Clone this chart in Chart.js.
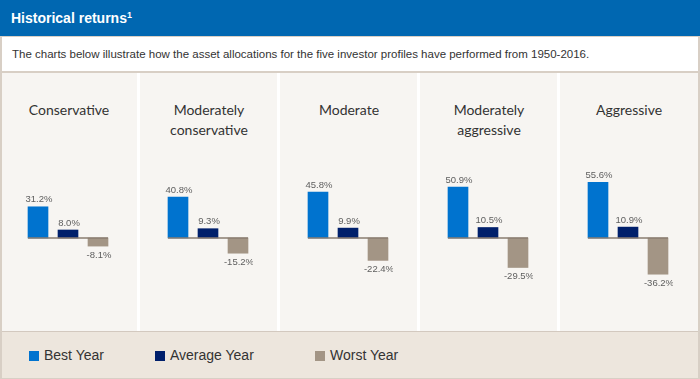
<!DOCTYPE html>
<html lang="en">
<head>
  <meta charset="UTF-8">
  <title>Historical returns</title>
  <script src="https://cdn.jsdelivr.net/npm/chart.js"></script>
  <style>
    body { margin: 0; background: #fff; font-family: Arial, "Liberation Sans", sans-serif; }
    #wrap { position: relative; width: 700px; height: 379px; overflow: hidden; }
    #header {
      position: absolute; left: 0; top: 0; width: 700px; height: 36px;
      background: #0067b1; color: #fff; font-weight: bold; font-size: 14px;
      line-height: 36px; box-sizing: border-box; padding-left: 11px;
    }
    #header sup { font-size: 9px; vertical-align: 5px; line-height: 0; }
    #intro {
      position: absolute; left: 0; top: 36px; width: 700px; height: 37px;
      box-sizing: border-box; border: 2px solid #d8cfc5; border-top: 1px solid #d8cfc5;
      font-size: 11.5px; color: #333; line-height: 34px; padding-left: 10px;
    }
    #body {
      position: absolute; left: 0; top: 73px; width: 700px; height: 306px;
      box-sizing: border-box; border-left: 2px solid #d8cfc5; border-right: 2px solid #d8cfc5;
      border-bottom: 2px solid #d8cfc5;
    }
    .panel { position: absolute; top: 73px; height: 258px; background: #f7f5f2; }
    .title {
      position: absolute; top: 100px; width: 120px; text-align: center;
      font-family: Lato, "Open Sans", sans-serif; font-size: 14px; line-height: 20px; color: #333;
    }
    canvas.mini { position: absolute; top: 158px; }
    #legend {
      position: absolute; left: 2px; top: 331px; width: 696px; height: 46px;
      background: #ede6dd; border-top: 1px solid #d3c9bf;
    }
    .leg { position: absolute; top: 15px; font-size: 14px; color: #333; line-height: 16px; }
    .leg i { position: absolute; left: -15px; top: 4px; width: 10px; height: 10px; }
  </style>
</head>
<body>
<div id="wrap">
  <div id="header">Historical returns<sup>1</sup></div>
  <div id="intro">The charts below illustrate how the asset allocations for the five investor profiles have performed from 1950-2016.</div>
  <div id="body"></div>
  <div id="legend"></div>
</div>
<script>
  // data
  const profiles = ['Conservative', 'Moderately conservative', 'Moderate', 'Moderately aggressive', 'Aggressive'];
  const seriesNames = ['Best Year', 'Average Year', 'Worst Year'];
  const bestYear = [31.2, 40.8, 45.8, 50.9, 55.6];
  const averageYear = [8.0, 9.3, 9.9, 10.5, 10.9];
  const worstYear = [-8.1, -15.2, -22.4, -29.5, -36.2];
  const seriesColors = ['#0073cf', '#001f6b', '#a39585'];

  const wrap = document.getElementById('wrap');

  // baseline + value labels
  const barDecor = {
    id: 'barDecor',
    afterDatasetsDraw(chart) {
      const ctx = chart.ctx;
      const bars = chart.getDatasetMeta(0).data;
      const vals = chart.data.datasets[0].data;
      const y0 = chart.scales.y.getPixelForValue(0);
      ctx.save();
      ctx.strokeStyle = '#8a7d70';
      ctx.lineWidth = 1.5;
      ctx.beginPath();
      ctx.moveTo(bars[0].x - bars[0].width / 2, y0);
      ctx.lineTo(bars[bars.length - 1].x + bars[bars.length - 1].width / 2, y0);
      ctx.stroke();
      ctx.font = '9.5px Arial, "Liberation Sans", sans-serif';
      ctx.fillStyle = '#5e5e5e';
      ctx.textAlign = 'center';
      ctx.textBaseline = 'middle';
      bars.forEach((b, k) => {
        const v = vals[k];
        const y = v >= 0 ? b.y - 7 : b.y + 9;
        ctx.fillText(v.toFixed(1) + '%', b.x + 1, y);
      });
      ctx.restore();
    }
  };

  profiles.forEach((name, i) => {
    const left = i === 0 ? 2 : 140 * i;
    const width = i === 0 ? 135 : (i === 4 ? 138 : 137);
    const panel = document.createElement('div');
    panel.className = 'panel';
    panel.style.left = left + 'px';
    panel.style.width = width + 'px';
    wrap.appendChild(panel);

    const t = document.createElement('div');
    t.className = 'title';
    t.style.left = (140 * i + 9) + 'px';
    t.textContent = name;
    if (name.indexOf(' ') > 0) t.style.width = '110px', t.style.left = (140 * i + 14) + 'px';
    wrap.appendChild(t);

    const cv = document.createElement('canvas');
    cv.className = 'mini';
    cv.width = 90;
    cv.height = 130;
    cv.style.left = (140 * i + 23) + 'px';
    wrap.appendChild(cv);

    new Chart(cv.getContext('2d'), {
      type: 'bar',
      data: {
        labels: seriesNames,
        datasets: [{
          data: [bestYear[i], averageYear[i], worstYear[i]],
          backgroundColor: seriesColors,
          barThickness: 20
        }]
      },
      options: {
        responsive: false,
        animation: false,
        layout: { padding: 0 },
        plugins: { legend: { display: false }, tooltip: { enabled: false } },
        scales: {
          x: { display: false },
          y: { display: false, min: -50, max: 80 }
        }
      },
      plugins: [barDecor]
    });
  });

  // legend from series arrays
  const legend = document.getElementById('legend');
  const legX = [42, 168, 328];
  seriesNames.forEach((s, k) => {
    const d = document.createElement('div');
    d.className = 'leg';
    d.style.left = legX[k] + 'px';
    d.innerHTML = '<i style="background:' + seriesColors[k] + '"></i>' + s;
    legend.appendChild(d);
  });
</script>
</body>
</html>
